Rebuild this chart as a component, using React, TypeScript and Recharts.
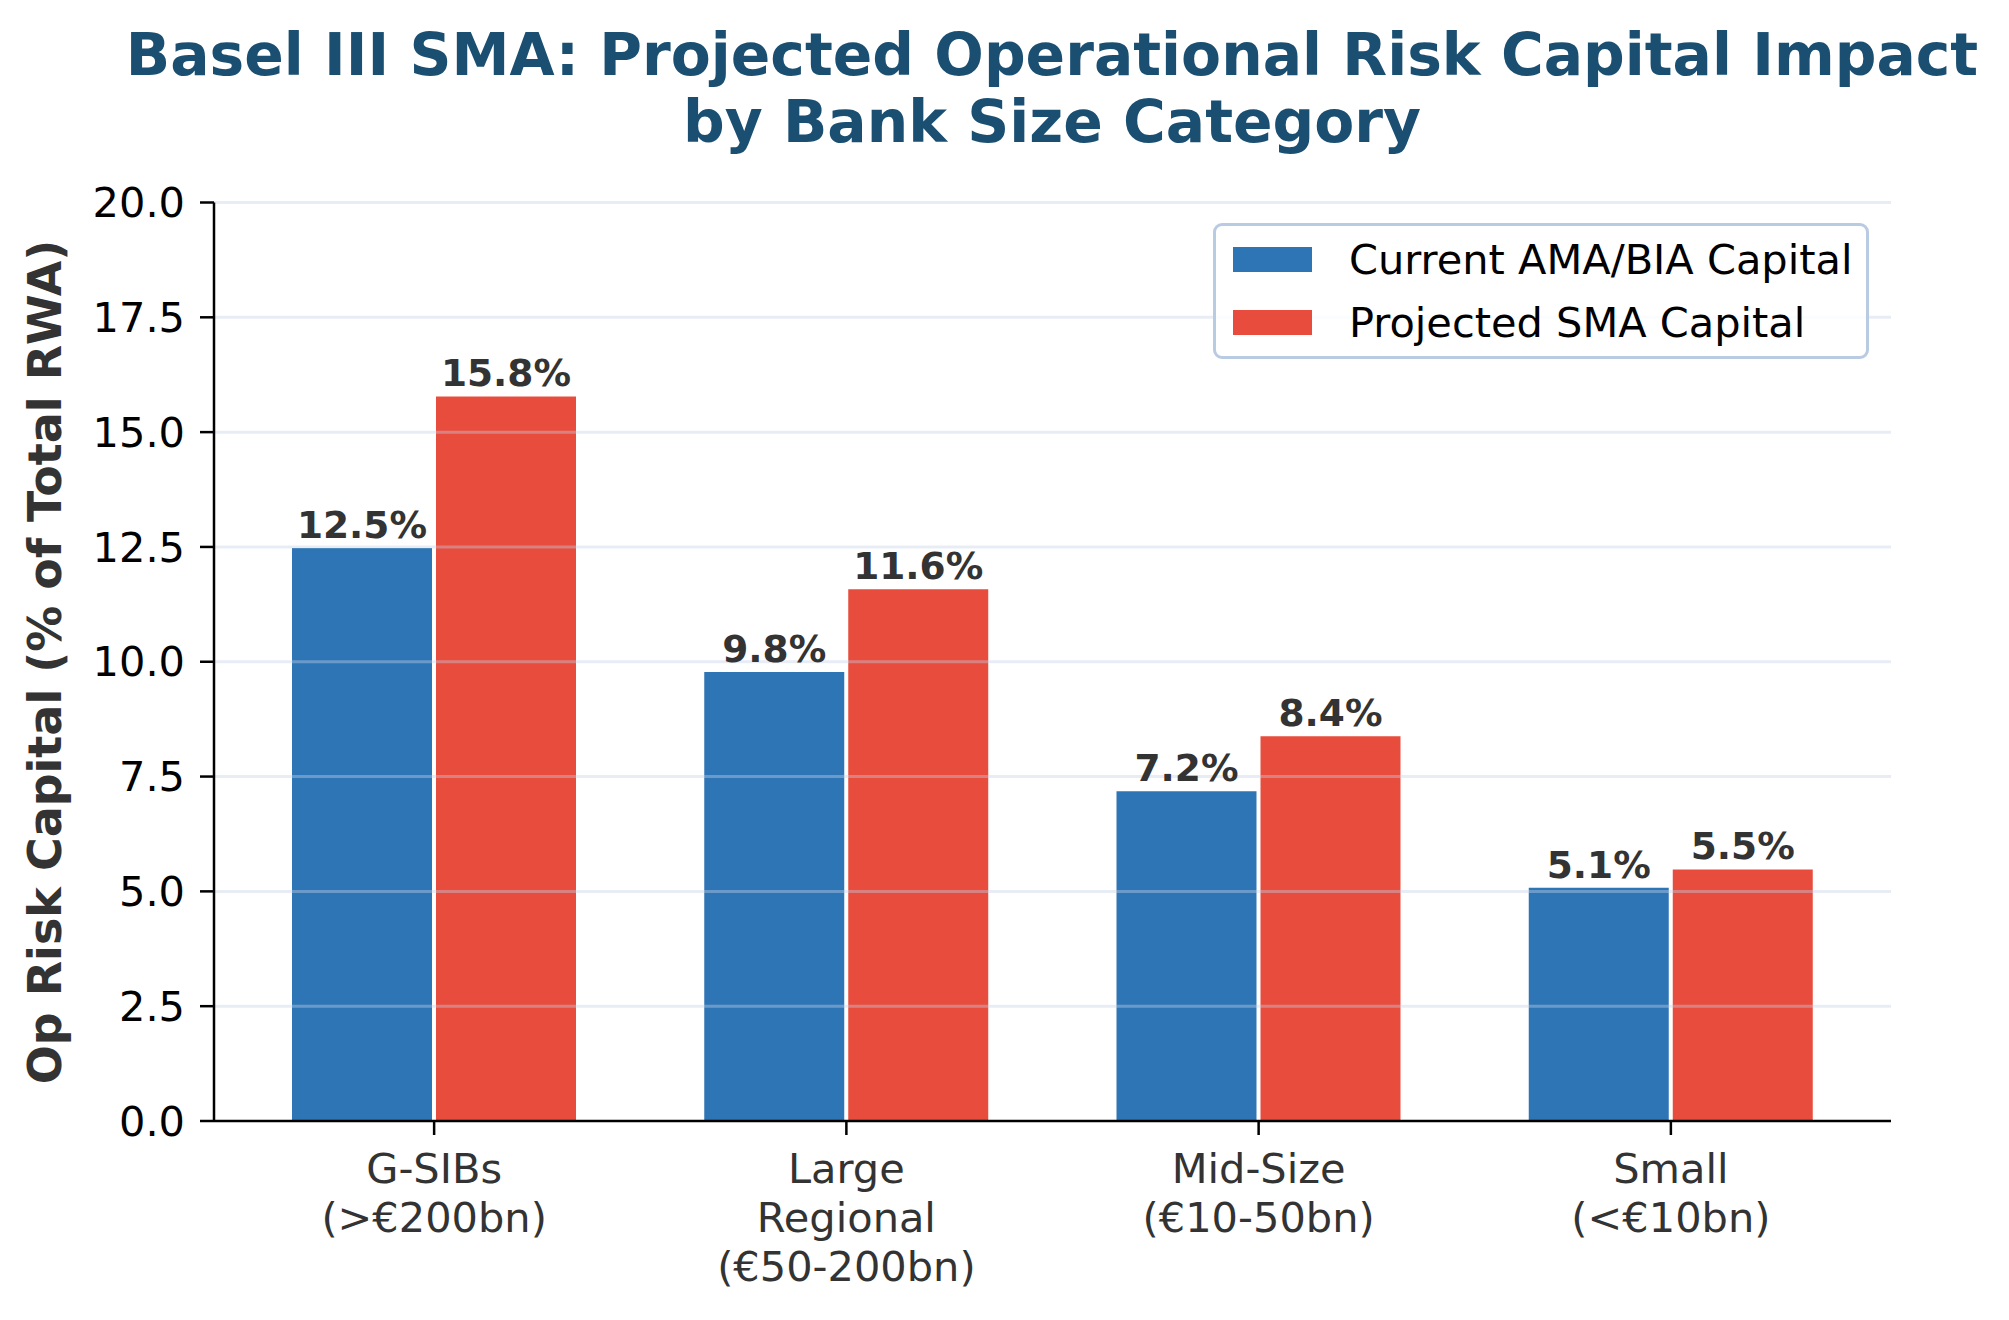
import React from 'react';
import { BarChart, Bar, XAxis, YAxis, Legend, ReferenceLine, LabelList } from 'recharts';

const categories = [
  'G-SIBs\n(>€200bn)',
  'Large\nRegional\n(€50-200bn)',
  'Mid-Size\n(€10-50bn)',
  'Small\n(<€10bn)',
];
const currentCapital = [12.5, 9.8, 7.2, 5.1];
const projectedCapital = [15.8, 11.6, 8.4, 5.5];
const yTicks = [0, 2.5, 5, 7.5, 10, 12.5, 15, 17.5, 20];

const FONT = '"DejaVu Sans", Verdana, sans-serif';
const BLUE = '#2e75b6';
const RED = '#e74c3c';

const data = categories.map((category, i) => ({
  category,
  current: currentCapital[i],
  projected: projectedCapital[i],
}));

const CategoryTick = (props: any) => {
  const { x, y, payload } = props;
  const lines = String(payload.value).split('\n');
  return (
    <text textAnchor="middle" fill="#333" fontSize={41.5} fontFamily={FONT}>
      {lines.map((line, i) => (
        <tspan key={i} x={x} y={y + 48 + i * 49}>
          {line}
        </tspan>
      ))}
    </text>
  );
};

const ValueLabel = (props: any) => {
  const { x, y, width, value } = props;
  return (
    <text
      x={x + width / 2}
      y={y - 9}
      textAnchor="middle"
      fill="#333"
      fontSize={37.5}
      fontWeight="bold"
      fontFamily={FONT}
    >
      {`${Number(value).toFixed(1)}%`}
    </text>
  );
};

const LegendBox = (props: any) => {
  const { payload = [] } = props;
  return (
    <div
      style={{
        position: 'relative',
        width: 656,
        height: 136,
        boxSizing: 'border-box',
        border: '3px solid #b9cbe3',
        borderRadius: 9,
        background: 'rgba(255,255,255,0.8)',
        fontFamily: FONT,
      }}
    >
      {payload.map((entry: any, i: number) => (
        <div
          key={entry.value}
          style={{ position: 'absolute', left: 17, top: 21 + i * 63, height: 25, display: 'flex', alignItems: 'center' }}
        >
          <div style={{ width: 79, height: 25, background: entry.color }} />
          <span style={{ marginLeft: 37, fontSize: 41.5, color: '#000', whiteSpace: 'nowrap', lineHeight: '25px' }}>
            {entry.value}
          </span>
        </div>
      ))}
    </div>
  );
};

export default function App() {
  return (
    <div style={{ position: 'absolute', left: 0, top: 0, width: 2009, height: 1320, background: '#fff' }}>
      <BarChart
        width={2009}
        height={1320}
        data={data}
        margin={{ top: 202.5, right: 118, bottom: 39, left: 94 }}
        barSize={142}
        barGap={2}
      >
        <XAxis
          dataKey="category"
          interval={0}
          padding={{ left: 14, right: 14 }}
          height={160}
          tickSize={14}
          tickMargin={0}
          axisLine={{ stroke: '#000', strokeWidth: 2.5 }}
          tickLine={{ stroke: '#000', strokeWidth: 2.5 }}
          tick={<CategoryTick />}
        />
        <YAxis
          domain={[0, 20]}
          ticks={yTicks}
          interval={0}
          width={120}
          tickSize={14}
          tickMargin={15}
          tickFormatter={(v: number) => v.toFixed(1)}
          axisLine={{ stroke: '#000', strokeWidth: 2.5 }}
          tickLine={{ stroke: '#000', strokeWidth: 2.5 }}
          tick={{ fill: '#000', fontSize: 41.5, fontFamily: FONT }}
        />
        <Legend
          layout="vertical"
          align="center"
          verticalAlign="middle"
          wrapperStyle={{ left: 1213, top: 223, width: 656, height: 136 }}
          content={<LegendBox />}
        />
        <Bar dataKey="current" name="Current AMA/BIA Capital" fill={BLUE} stroke="#fff" strokeWidth={2} isAnimationActive={false}>
          <LabelList dataKey="current" content={<ValueLabel />} />
        </Bar>
        <Bar dataKey="projected" name="Projected SMA Capital" fill={RED} stroke="#fff" strokeWidth={2} isAnimationActive={false}>
          <LabelList dataKey="projected" content={<ValueLabel />} />
        </Bar>
        {/* grid sits above the bars */}
        {yTicks
          .filter((v) => v > 0)
          .map((v) => (
            <ReferenceLine key={v} y={v} stroke="#c5d3e6" strokeWidth={3} strokeOpacity={0.4} />
          ))}
      </BarChart>
      <svg
        width={2009}
        height={1320}
        style={{ position: 'absolute', left: 0, top: 0, pointerEvents: 'none' }}
      >
        <text x={1052} y={75} textAnchor="middle" fontSize={58.3} fontWeight="bold" fill="#1b4f72" fontFamily={FONT}>
          Basel III SMA: Projected Operational Risk Capital Impact
        </text>
        <text x={1052} y={142} textAnchor="middle" fontSize={58.3} fontWeight="bold" fill="#1b4f72" fontFamily={FONT}>
          by Bank Size Category
        </text>
        <text
          transform="translate(61, 662) rotate(-90)"
          textAnchor="middle"
          fontSize={46}
          fontWeight="bold"
          fill="#333"
          fontFamily={FONT}
        >
          Op Risk Capital (% of Total RWA)
        </text>
      </svg>
    </div>
  );
}
